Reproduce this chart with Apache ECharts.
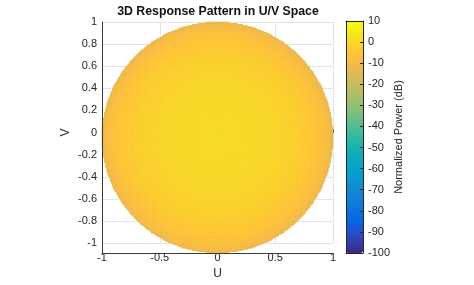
<!DOCTYPE html>
<html><head><meta charset="utf-8">
<script src="https://cdn.jsdelivr.net/npm/echarts@6/dist/echarts.min.js"></script>
<style>html,body{margin:0;padding:0;background:#fff}#c{width:474px;height:285px}</style>
</head><body><div id="c"></div>
<script>
// ---- data ----
const chartTitle = '3D Response Pattern in U/V Space';
const xName = 'U';
const yName = 'V';
const cbName = 'Normalized Power (dB)';
const xTicks = [-1, -0.5, 0, 0.5, 1];
const yTicks = [-1, -0.8, -0.6, -0.4, -0.2, 0, 0.2, 0.4, 0.6, 0.8, 1];
const cbTicks = [-100, -90, -80, -70, -60, -50, -40, -30, -20, -10, 0, 10];
// radial profile of the pattern (radius in U/V plane -> normalized power dB)
const radii   = [0, 0.1, 0.2, 0.3, 0.4, 0.5, 0.55, 0.6, 0.65, 0.7, 0.75, 0.8, 0.84, 0.87, 0.9, 0.92, 0.94, 0.96, 0.975, 0.99];
const powerDb = [0, -0.05, -0.2, -0.4, -0.75, -1.25, -1.55, -1.95, -2.4, -2.95, -3.6, -4.4, -5.1, -5.8, -6.8, -7.6, -8.4, -9.3, -10.5, -12];
const gridN = 200; // samples across U and V

// ---- build heatmap cells (visible region u^2+v^2<=1) ----
const cats = [];
for (let i = 0; i < gridN; i++) cats.push(String(i));
const cells = [];
for (let i = 0; i < gridN; i++) {
  const u = -1 + (i + 0.5) * 2 / gridN;
  for (let j = 0; j < gridN; j++) {
    const v = -1 + (j + 0.5) * 2 / gridN;
    const r = Math.sqrt(u * u + v * v);
    if (r > 1) continue;
    let best = 0;
    for (let k = 1; k < radii.length; k++) if (Math.abs(radii[k] - r) < Math.abs(radii[best] - r)) best = k;
    cells.push([i, j, powerDb[best]]);
  }
}

const parula = ['#352a87','#353dad','#2053d4','#0268e1','#0d75dc','#1481d6','#108ed2','#079ccf','#06a7c6','#0faeb9','#25b5a9','#42bb98','#65be86','#87bf77','#a5be6b','#c0bc60','#d9ba56','#f1b94a','#ffc337','#f7d826','#f5eb18','#f9fb0e'];
const txt = '#262626';
const font = 'Liberation Sans, Arial, sans-serif';
const plot = {left: 102, right: 141, top: 22, bottom: 32};
const cbGrid = {left: 346, width: 17, top: 21, height: 232};

const chart = echarts.init(document.getElementById('c'), null, {renderer: 'canvas'});
chart.setOption({
  animation: false,
  backgroundColor: '#fff',
  textStyle: {fontFamily: font},
  title: {
    text: chartTitle, left: 218, top: 6, padding: 0, textAlign: 'center',
    textStyle: {fontSize: 12.3, fontWeight: 'bold', color: '#111', fontFamily: font}
  },
  grid: [
    Object.assign({}, plot),
    Object.assign({}, plot),
    Object.assign({}, cbGrid)
  ],
  xAxis: [
    {gridIndex: 0, type: 'value', min: -1, max: 1, interval: 0.5, z: 0,
     name: xName, nameLocation: 'middle', nameGap: 21,
     nameTextStyle: {fontSize: 12, color: txt, fontFamily: font},
     axisLine: {show: false},
     axisTick: {show: true, inside: true, length: 3, lineStyle: {color: txt}},
     axisLabel: {fontSize: 11, color: txt, margin: 9, fontFamily: font,
       formatter: v => xTicks.includes(v) ? String(v) : ''},
     splitLine: {show: true, lineStyle: {color: '#e4e4e4', width: 1}}},
    {gridIndex: 1, type: 'category', data: cats, z: 10,
     axisLine: {show: true, lineStyle: {color: '#3a3a3a', width: 1}},
     axisTick: {show: false}, axisLabel: {show: false}, splitLine: {show: false}},
    {gridIndex: 2, type: 'category', data: ['a'], position: 'bottom', z: 10,
     axisLine: {show: true, onZero: false, lineStyle: {color: txt, width: 1}},
     axisTick: {show: false}, axisLabel: {show: false}},
    {gridIndex: 2, type: 'category', data: ['a'], position: 'top', z: 10,
     axisLine: {show: true, onZero: false, lineStyle: {color: txt, width: 1}},
     axisTick: {show: false}, axisLabel: {show: false}}
  ],
  yAxis: [
    {gridIndex: 0, type: 'value', min: -1, max: 1, interval: 0.2, z: 0,
     name: yName, nameLocation: 'middle', nameGap: 30,
     nameTextStyle: {fontSize: 12, color: txt, fontFamily: font},
     axisLine: {show: false},
     axisTick: {show: true, inside: true, length: 3, lineStyle: {color: txt}},
     axisLabel: {fontSize: 11, color: txt, margin: 5, fontFamily: font,
       formatter: v => { const r = Math.round(v * 10) / 10; return yTicks.includes(r) ? String(r) : ''; }},
     splitLine: {show: true, lineStyle: {color: '#e4e4e4', width: 1}}},
    {gridIndex: 1, type: 'category', data: cats, z: 10,
     axisLine: {show: true, lineStyle: {color: '#3a3a3a', width: 1}},
     axisTick: {show: false}, axisLabel: {show: false}, splitLine: {show: false}},
    {gridIndex: 2, type: 'value', min: cbTicks[0], max: cbTicks[cbTicks.length - 1], interval: 10,
     position: 'right', z: 10,
     name: cbName, nameLocation: 'middle', nameGap: 30,
     nameTextStyle: {fontSize: 11, color: txt, fontFamily: font},
     axisLine: {show: true, onZero: false, lineStyle: {color: txt, width: 1}},
     axisTick: {show: true, inside: true, length: 3, lineStyle: {color: txt}},
     axisLabel: {fontSize: 11, color: txt, margin: 5, fontFamily: font},
     splitLine: {show: false}},
    {gridIndex: 2, type: 'value', min: cbTicks[0], max: cbTicks[cbTicks.length - 1], interval: 10,
     position: 'left', z: 10,
     axisLine: {show: true, onZero: false, lineStyle: {color: txt, width: 1}},
     axisTick: {show: false}, axisLabel: {show: false}, splitLine: {show: false}}
  ],
  visualMap: {
    type: 'continuous', seriesIndex: 0, min: cbTicks[0], max: cbTicks[cbTicks.length - 1],
    calculable: false, hoverLink: false, realtime: false,
    left: cbGrid.left, top: cbGrid.top, itemWidth: cbGrid.width, itemHeight: cbGrid.height,
    padding: 0, text: ['', ''], showLabel: false,
    inRange: {color: parula}
  },
  series: [{
    type: 'heatmap', xAxisIndex: 1, yAxisIndex: 1, data: cells,
    progressive: 0, emphasis: {disabled: true}, silent: true
  }]
});
</script></body></html>
